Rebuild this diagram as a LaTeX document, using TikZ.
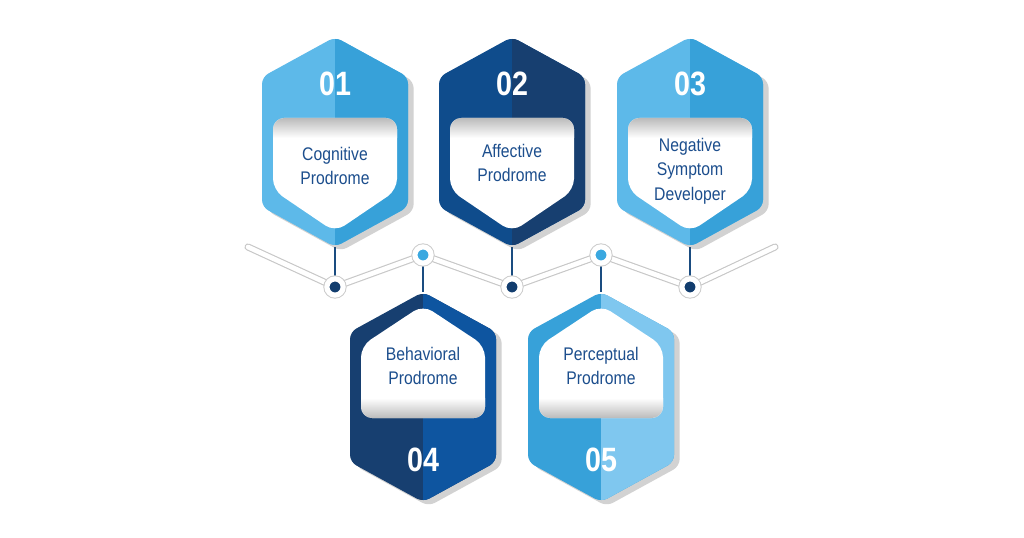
\documentclass[tikz,border=0pt]{standalone}
\usepackage{fontspec}
\setmainfont{Liberation Sans}
\newfontfamily\narrowfont[FakeStretch=0.86]{Liberation Sans}
\newfontfamily\numfont[FakeStretch=0.85]{Liberation Sans}
\usetikzlibrary{shadows,backgrounds}
\definecolor{sky}{HTML}{5DB9E9}
\definecolor{skydeep}{HTML}{37A1D9}
\definecolor{skypale}{HTML}{7FC7EF}
\definecolor{navy}{HTML}{0F4C8C}
\definecolor{navydeep}{HTML}{173F70}
\definecolor{navybright}{HTML}{0E55A0}
\definecolor{ink}{HTML}{1C4E8D}
\definecolor{linkblue}{HTML}{1A4C80}
\definecolor{dotdark}{HTML}{123D6E}
\definecolor{dotlight}{HTML}{3AA8E0}

\begin{document}
\begin{tikzpicture}[x=0.025cm,y=-0.025cm,
 dot/.style={circle,inner sep=0pt,minimum size=11.5pt,fill=#1,draw=white,line width=3.6pt,
   preaction={draw=black!20,line width=5pt}},
 link/.style={draw=linkblue,line width=1.2pt},
 trackedge/.style={draw=black!22,line width=5pt,line cap=round},
 trackfill/.style={draw=white,line width=3.4pt,line cap=round},
 hexshadow/.style={drop shadow={shadow xshift=4pt,shadow yshift=-3pt,opacity=.25,fill=black!70}},
 lbl/.style={font=\narrowfont\fontsize{13}{17.5}\selectfont,text=ink,align=center},
 num/.style={font=\numfont\bfseries\fontsize{24}{24}\selectfont,text=white}]
\useasboundingbox (0,0) rectangle (1024,538);
% dots on the track
\node[dot=dotdark] (dk1) at (335,287) {};
\node[dot=dotlight] (lt1) at (423,255) {};
\node[dot=dotdark] (dk2) at (512,287) {};
\node[dot=dotlight] (lt2) at (601,255) {};
\node[dot=dotdark] (dk3) at (690,287) {};
\coordinate (lineL) at (248,247);
\coordinate (lineR) at (775,247);
% upper cells
\foreach \cx/\lc/\rc/\n/\txt/\ty in {335/sky/skydeep/01/{Cognitive\\Prodrome}/166,
  512/navy/navydeep/02/{Affective\\Prodrome}/163,
  690/sky/skydeep/03/{Negative\\Symptom\\Developer}/171}{
  \fill[\lc,hexshadow,rounded corners=5pt] ({\cx-73},142) -- ({\cx-73},77) -- (\cx,37) -- ({\cx+73},77)
    -- ({\cx+73},207) -- (\cx,247) -- ({\cx-73},207) -- cycle;
  \begin{scope}
    \clip[rounded corners=5pt] ({\cx-73},142) -- ({\cx-73},77) -- (\cx,37) -- ({\cx+73},77)
      -- ({\cx+73},207) -- (\cx,247) -- ({\cx-73},207) -- cycle;
    \fill[\rc] (\cx,30) rectangle ({\cx+80},250);
  \end{scope}
  \fill[white,rounded corners=8pt] (\cx,118) -- ({\cx+62},118) -- ({\cx+62},190) -- (\cx,232)
    -- ({\cx-62},190) -- ({\cx-62},118) -- cycle;
  \begin{scope}
    \clip[rounded corners=8pt] (\cx,118) -- ({\cx+62},118) -- ({\cx+62},190) -- (\cx,232)
      -- ({\cx-62},190) -- ({\cx-62},118) -- cycle;
    \shade[top color=black!28,bottom color=white] ({\cx-63},117) rectangle ({\cx+63},138);
  \end{scope}
  \node[num] (num\n) at (\cx,84) {\n};
  \node[lbl] (lab\n) at (\cx,\ty) {\txt};
  \coordinate (tip\n) at (\cx,247);
}
% lower cells
\foreach \cx/\lc/\rc/\n/\txt in {423/navydeep/navybright/04/{Behavioral\\Prodrome},
  601/skydeep/skypale/05/{Perceptual\\Prodrome}}{
  \fill[\lc,hexshadow,rounded corners=5pt] ({\cx-73},397) -- ({\cx-73},332) -- (\cx,292) -- ({\cx+73},332)
    -- ({\cx+73},462) -- (\cx,502) -- ({\cx-73},462) -- cycle;
  \begin{scope}
    \clip[rounded corners=5pt] ({\cx-73},397) -- ({\cx-73},332) -- (\cx,292) -- ({\cx+73},332)
      -- ({\cx+73},462) -- (\cx,502) -- ({\cx-73},462) -- cycle;
    \fill[\rc] (\cx,285) rectangle ({\cx+80},510);
  \end{scope}
  \fill[white,rounded corners=8pt] (\cx,418) -- ({\cx-62},418) -- ({\cx-62},346) -- (\cx,305)
    -- ({\cx+62},346) -- ({\cx+62},418) -- cycle;
  \begin{scope}
    \clip[rounded corners=8pt] (\cx,418) -- ({\cx-62},418) -- ({\cx-62},346) -- (\cx,305)
      -- ({\cx+62},346) -- ({\cx+62},418) -- cycle;
    \shade[top color=white,bottom color=black!28] ({\cx-63},398) rectangle ({\cx+63},419);
  \end{scope}
  \node[num] (num\n) at (\cx,460) {\n};
  \node[lbl] (lab\n) at (\cx,366) {\txt};
  \coordinate (top\n) at (\cx,292);
}
\begin{pgfonlayer}{background}
\fill[white] (0,0) rectangle (1024,538);
\draw[trackedge] (lineL) -- (dk1) -- (lt1) -- (dk2) -- (lt2) -- (dk3) -- (lineR);
\draw[trackfill] (lineL) -- (dk1) -- (lt1) -- (dk2) -- (lt2) -- (dk3) -- (lineR);
\draw[link] (tip01) -- (dk1);
\draw[link] (tip02) -- (dk2);
\draw[link] (tip03) -- (dk3);
\draw[link] (lt1) -- (top04);
\draw[link] (lt2) -- (top05);
\end{pgfonlayer}
\end{tikzpicture}
\end{document}
